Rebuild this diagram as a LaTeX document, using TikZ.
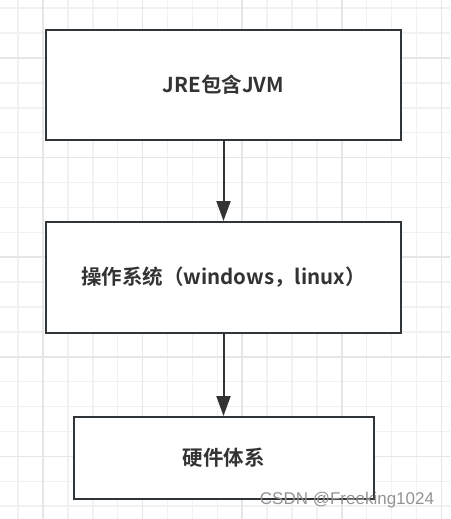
\documentclass[tikz,border=0pt]{standalone}
\usepackage{fontspec}
\newfontfamily\cjk[BoldFont={Noto Sans CJK SC Bold}]{Noto Sans CJK SC}
\newfontfamily\markfont{Liberation Sans}
\usetikzlibrary{arrows.meta, positioning}
\definecolor{boxline}{HTML}{2F3539}
\definecolor{textgray}{HTML}{333333}
\definecolor{gridminor}{HTML}{F1F1F1}
\definecolor{gridmajor}{HTML}{E6E6E6}

\begin{document}
\begin{tikzpicture}[x=1pt, y=-1pt,
        layer/.style={rectangle, draw=boxline, line width=2pt, fill=white, minimum width=355pt, minimum height=110pt, inner sep=0pt, font=\cjk\bfseries\fontsize{20.5pt}{22pt}\selectfont, text=textgray},
        flow/.style={-{Triangle[length=20pt, width=14pt]}, line width=2pt, draw=textgray}
    ]
        \useasboundingbox (0,0) rectangle (450,519);
        % Background grid
        \foreach \i in {0,...,17} {
            \draw[gridminor, line width=1.5pt] ({18.1+24.9*\i},0) -- ({18.1+24.9*\i},519);
        }
        \foreach \i in {0,...,20} {
            \draw[gridminor, line width=1.5pt] (0,{8.2+24.9*\i}) -- (450,{8.2+24.9*\i});
        }
        \foreach \i in {0,...,4} {
            \draw[gridmajor, line width=1.5pt] ({43+99.6*\i},0) -- ({43+99.6*\i},519);
            \draw[gridmajor, line width=1.5pt] (0,{58+99.6*\i}) -- (450,{58+99.6*\i});
        }

        % Layers
        \node[layer] (jre) at (223.5,85) {JRE包含JVM};
        \node[layer, minimum height=111pt, below=80pt of jre] (os) {操作系统（windows，linux）};
        \node[layer, minimum width=300pt, minimum height=82pt, below=82pt of os] (hw) {硬件体系};
        \draw[flow] (jre) -- (os);
        \draw[flow] (os) -- (hw);

        % Watermark
        \node[font=\markfont\fontsize{17pt}{17pt}\selectfont, text=gray!85] (mark) at (347,500) {CSDN @Freeking1024};
    \end{tikzpicture}
\end{document}
